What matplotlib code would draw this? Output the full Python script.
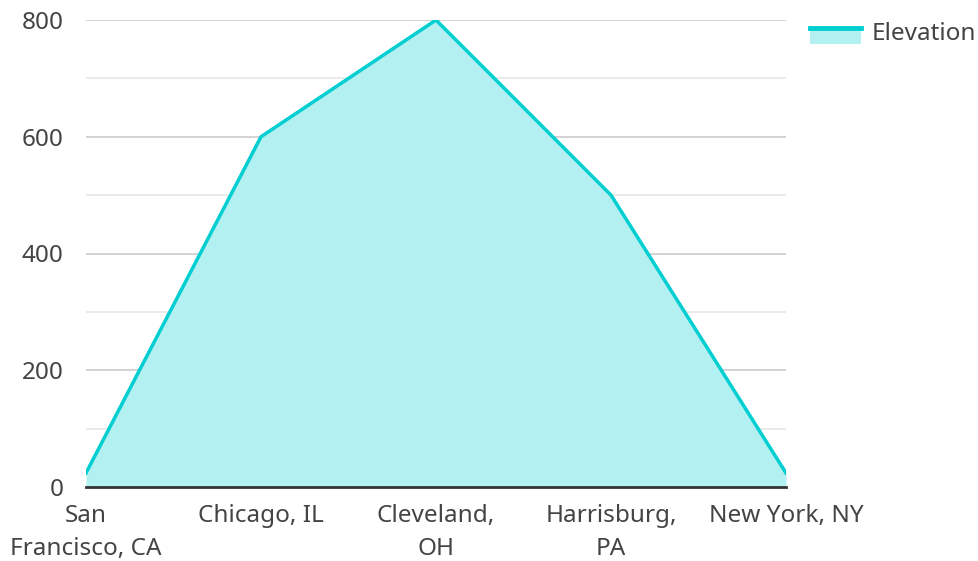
import matplotlib
matplotlib.use("Agg")
import matplotlib.pyplot as plt
from matplotlib.lines import Line2D
from matplotlib.patches import Rectangle
from matplotlib.ticker import MultipleLocator

plt.rcParams['font.family'] = ['Noto Sans', 'DejaVu Sans']

cities = ["San\nFrancisco, CA", "Chicago, IL", "Cleveland,\nOH", "Harrisburg,\nPA", "New York, NY"]
elevation = [24, 600, 800, 500, 24]

line_col = "#00CED1"
fill_col = "#B2F0F1"
text_col = "#444444"
fs = 17.5

fig = plt.figure(figsize=(9.79, 5.61), dpi=100)
ax = fig.add_axes([86 / 979, 74 / 561, 700 / 979, 467 / 561])

x = list(range(len(cities)))
ax.fill_between(x, elevation, 0, color=fill_col, linewidth=0, zorder=2)
ax.plot(x, elevation, color=line_col, linewidth=2.5, zorder=3)

ax.set_xlim(0, len(cities) - 1)
ax.set_ylim(0, 800)
ax.yaxis.set_major_locator(MultipleLocator(200))
ax.yaxis.set_minor_locator(MultipleLocator(100))
ax.grid(axis='y', which='major', color='#cccccc', linewidth=1.2, zorder=1)
ax.grid(axis='y', which='minor', color='#e6e6e6', linewidth=1.2, zorder=1)

ax.set_xticks(x)
ax.set_xticklabels(cities, fontsize=fs, color=text_col, linespacing=1.5)
ax.tick_params(axis='y', labelsize=fs, labelcolor=text_col, length=0, pad=16)
ax.tick_params(axis='x', length=0, pad=12)
ax.tick_params(axis='y', which='minor', length=0)

for s in ['top', 'right', 'left']:
    ax.spines[s].set_visible(False)
ax.spines['bottom'].set_color('#333333')
ax.spines['bottom'].set_linewidth(2)
ax.spines['bottom'].set_zorder(4)


class AreaHandler:
    # line on top, light patch beneath, like the area swatch
    def legend_artist(self, legend, orig_handle, fontsize, handlebox):
        x0, y0 = handlebox.xdescent, handlebox.ydescent
        w, h = handlebox.width, handlebox.height
        patch = Rectangle((x0, y0 - h * 0.25), w, h * 0.95, facecolor=fill_col,
                          edgecolor='none', transform=handlebox.get_transform())
        line = Line2D([x0, x0 + w], [y0 + h * 0.7, y0 + h * 0.7], color=line_col,
                      linewidth=3.5, transform=handlebox.get_transform())
        handlebox.add_artist(patch)
        handlebox.add_artist(line)
        return patch


leg = fig.legend([object()], ["Elevation"], loc='upper right', bbox_to_anchor=(1.007, 0.979),
                 frameon=False, fontsize=fs, labelcolor=text_col,
                 handler_map={object: AreaHandler()},
                 handlelength=2.1, handleheight=0.7, handletextpad=0.45, borderaxespad=0.0)

fig.savefig("out.png", dpi=100)
